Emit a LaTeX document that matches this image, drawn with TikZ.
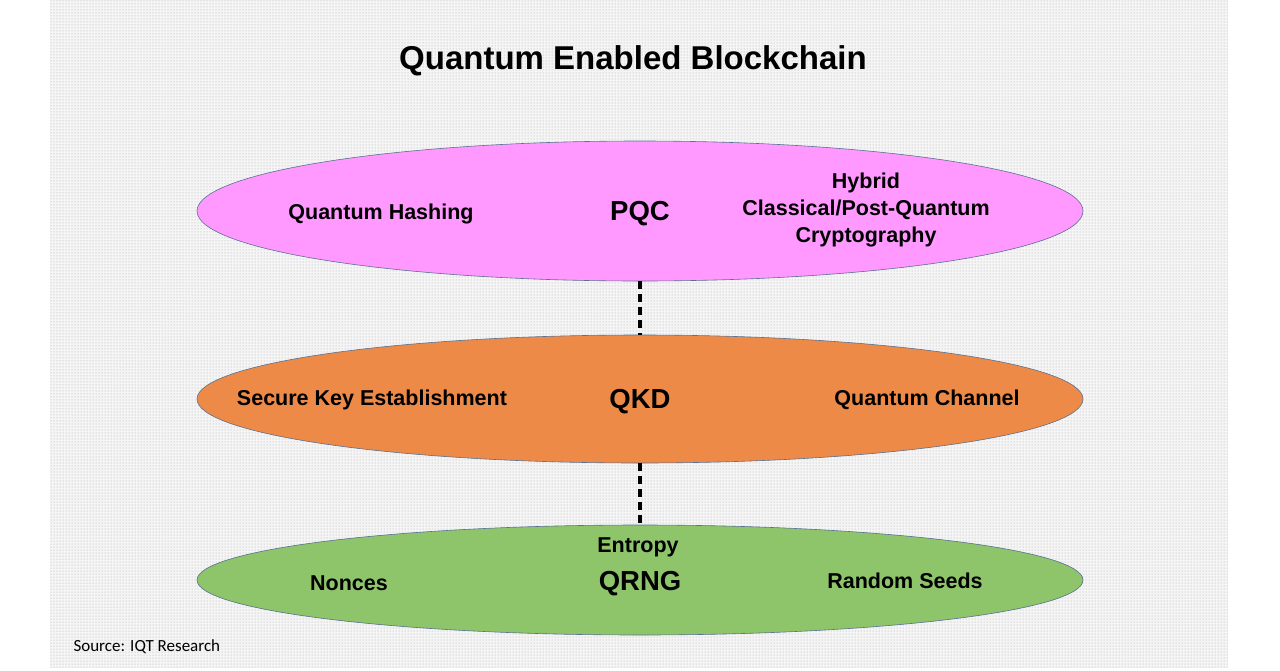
\documentclass[tikz,border=0pt]{standalone}
\usepackage{fontspec}
\setmainfont{Liberation Sans}
\newfontfamily\calfont{Carlito}
\usetikzlibrary{patterns}
\definecolor{pqc}{HTML}{FF99FF}
\definecolor{qkd}{HTML}{EE8A48}
\definecolor{qrng}{HTML}{8EC46A}
\definecolor{edge}{HTML}{5A7090}
\begin{document}
\begin{tikzpicture}[x=1pt,y=-1pt,
  lbl/.style={font=\fontsize{21.5}{27}\selectfont\bfseries,align=center},
  big/.style={font=\fontsize{27.5}{32}\selectfont\bfseries},
  ell/.style={draw=edge,line width=0.6pt},
  link/.style={line width=3.2pt,dash pattern=on 8pt off 5pt}]
\useasboundingbox (0,0) rectangle (1280,670);
\fill[black!4] (50,0) rectangle (1228,668);
\fill[pattern=dots,pattern color=black!35] (50,0) rectangle (1228,668);
\node[font=\fontsize{33}{38}\selectfont\bfseries] (title) at (633,61) {Quantum Enabled Blockchain};
\draw[ell,fill=pqc] (640,211) ellipse [x radius=443,y radius=70];
\draw[ell,fill=qkd] (640,399) ellipse [x radius=443,y radius=64];
\draw[ell,fill=qrng] (640,580) ellipse [x radius=443,y radius=55];
\coordinate (p) at (640,281); \coordinate (k1) at (640,335);
\coordinate (k2) at (640,463); \coordinate (r) at (640,525);
\draw[link] (p) -- (k1);
\draw[link] (k2) -- (r);
\node[big] (pqc) at (640,214) {PQC};
\node[lbl] (qh) at (381,214) {Quantum Hashing};
\node[lbl] (hy) at (866,210) {Hybrid\\Classical/Post-Quantum\\Cryptography};
\node[big] (qkd) at (640,402) {QKD};
\node[lbl] (ske) at (372,400) {Secure Key Establishment};
\node[lbl] (qc) at (927,400) {Quantum Channel};
\node[big] (qrng) at (640,584) {QRNG};
\node[lbl] (ent) at (638,547) {Entropy};
\node[lbl] (non) at (349,583) {Nonces};
\node[lbl] (rs) at (905,581) {Random Seeds};
\node[font=\calfont\fontsize{17}{20}\selectfont,anchor=west] (src) at (70,647) {Source: IQT Research};
\end{tikzpicture}
\end{document}
